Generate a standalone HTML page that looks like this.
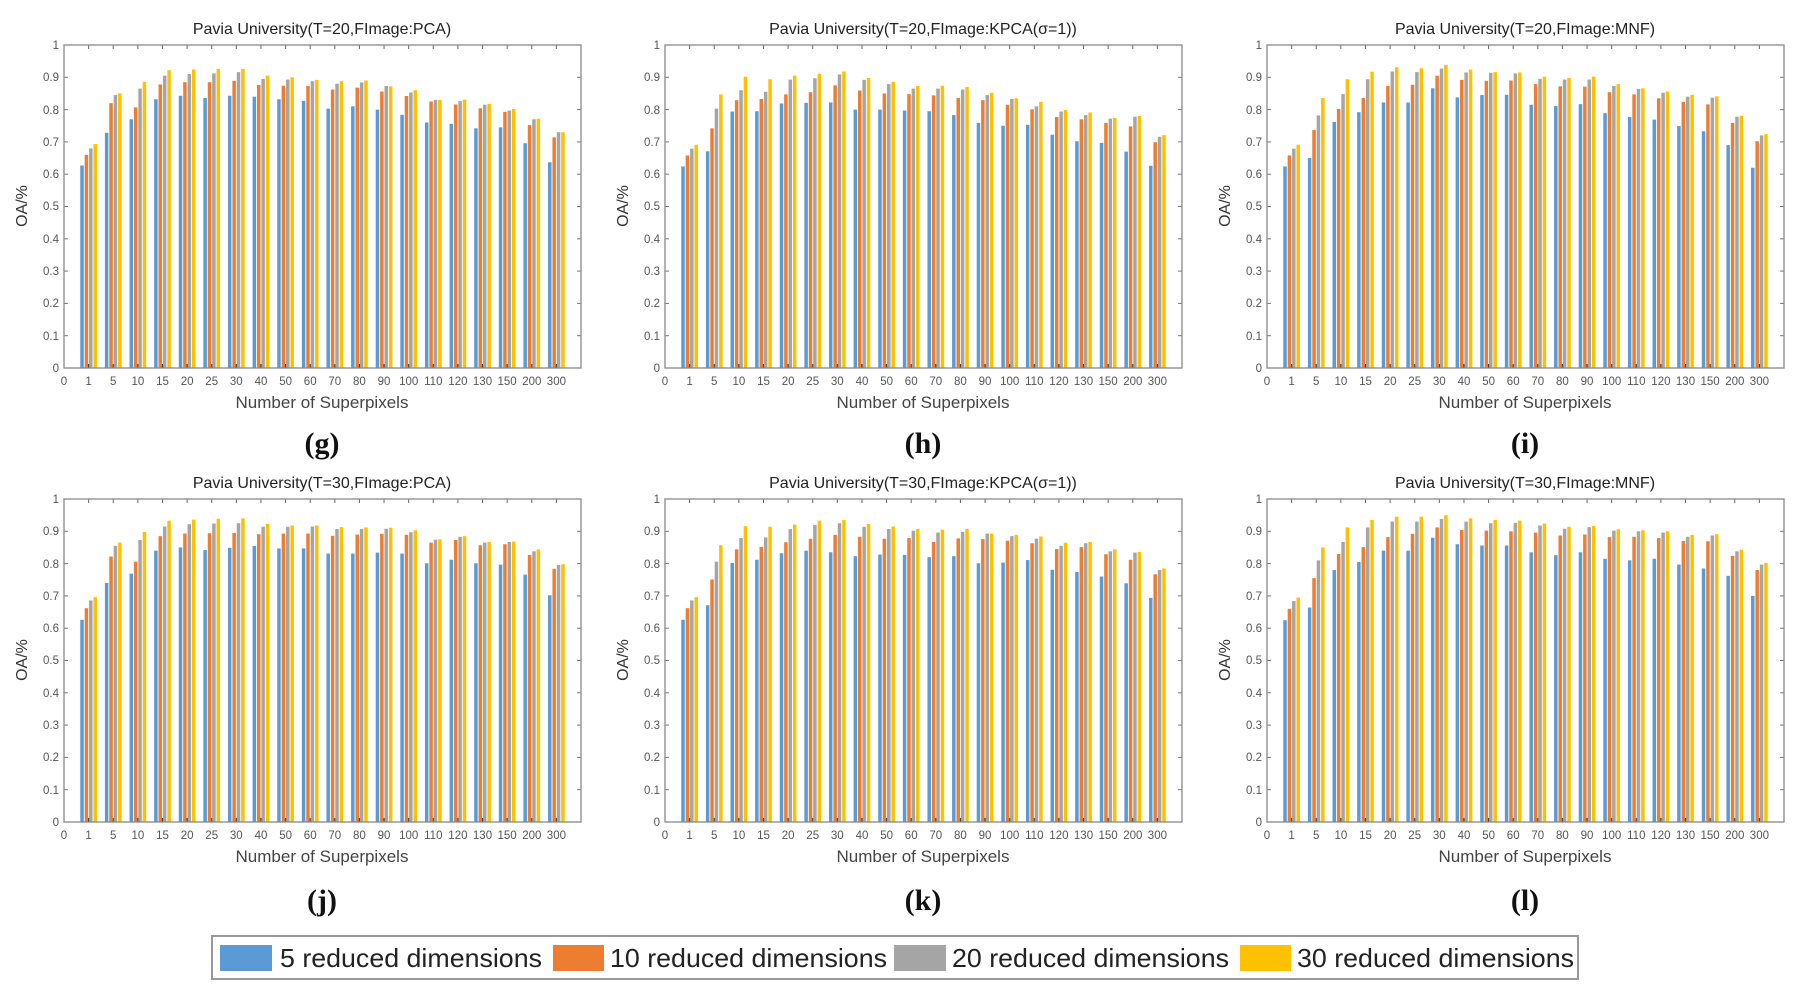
<!DOCTYPE html>
<html><head><meta charset="utf-8"><style>
html,body{margin:0;padding:0;background:#fff;}
svg{display:block;}
.t{font-family:"Liberation Sans",sans-serif;font-size:16px;fill:#222;text-anchor:middle;}
.xl{font-family:"Liberation Sans",sans-serif;font-size:17px;fill:#444;text-anchor:middle;}
.tk{font-family:"Liberation Sans",sans-serif;font-size:11.5px;fill:#555;text-anchor:middle;}
.yk{font-family:"Liberation Sans",sans-serif;font-size:11.5px;fill:#555;text-anchor:end;}
.yl{font-family:"Liberation Sans",sans-serif;font-size:16px;fill:#333;text-anchor:middle;}
.sub{font-family:"Liberation Serif",serif;font-size:30px;font-weight:bold;fill:#111;text-anchor:middle;}
.lg{font-family:"Liberation Sans",sans-serif;font-size:26px;fill:#222;}
</style></head><body>
<svg id="s" width="1804" height="988" xmlns="http://www.w3.org/2000/svg">
<rect width="1804" height="988" fill="#fff"/>
<g id="bars"></g>
<g transform="translate(64,45)">
<text class="t" x="258" y="-11">Pavia University(T=20,FImage:PCA)</text>
<text class="xl" x="258" y="363">Number of Superpixels</text>
<text class="sub" x="258" y="408">(g)</text>
<text class="yl" transform="translate(-37,161) rotate(-90)">OA/%</text>
<text class="yk" x="-5" y="327">0</text><text class="yk" x="-5" y="295">0.1</text><text class="yk" x="-5" y="262">0.2</text><text class="yk" x="-5" y="230">0.3</text><text class="yk" x="-5" y="198">0.4</text><text class="yk" x="-5" y="165">0.5</text><text class="yk" x="-5" y="133">0.6</text><text class="yk" x="-5" y="101">0.7</text><text class="yk" x="-5" y="69">0.8</text><text class="yk" x="-5" y="36">0.9</text><text class="yk" x="-5" y="4">1</text>
<text class="tk" x="0" y="340">0</text><text class="tk" x="24.6" y="340">1</text><text class="tk" x="49.2" y="340">5</text><text class="tk" x="73.9" y="340">10</text><text class="tk" x="98.5" y="340">15</text><text class="tk" x="123.1" y="340">20</text><text class="tk" x="147.7" y="340">25</text><text class="tk" x="172.3" y="340">30</text><text class="tk" x="197" y="340">40</text><text class="tk" x="221.6" y="340">50</text><text class="tk" x="246.2" y="340">60</text><text class="tk" x="270.8" y="340">70</text><text class="tk" x="295.4" y="340">80</text><text class="tk" x="320" y="340">90</text><text class="tk" x="344.7" y="340">100</text><text class="tk" x="369.3" y="340">110</text><text class="tk" x="393.9" y="340">120</text><text class="tk" x="418.5" y="340">130</text><text class="tk" x="443.1" y="340">150</text><text class="tk" x="467.8" y="340">200</text><text class="tk" x="492.4" y="340">300</text>
</g>
<g transform="translate(665,45)">
<text class="t" x="258" y="-11">Pavia University(T=20,FImage:KPCA(σ=1))</text>
<text class="xl" x="258" y="363">Number of Superpixels</text>
<text class="sub" x="258" y="408">(h)</text>
<text class="yl" transform="translate(-37,161) rotate(-90)">OA/%</text>
<text class="yk" x="-5" y="327">0</text><text class="yk" x="-5" y="295">0.1</text><text class="yk" x="-5" y="262">0.2</text><text class="yk" x="-5" y="230">0.3</text><text class="yk" x="-5" y="198">0.4</text><text class="yk" x="-5" y="165">0.5</text><text class="yk" x="-5" y="133">0.6</text><text class="yk" x="-5" y="101">0.7</text><text class="yk" x="-5" y="69">0.8</text><text class="yk" x="-5" y="36">0.9</text><text class="yk" x="-5" y="4">1</text>
<text class="tk" x="0" y="340">0</text><text class="tk" x="24.6" y="340">1</text><text class="tk" x="49.2" y="340">5</text><text class="tk" x="73.9" y="340">10</text><text class="tk" x="98.5" y="340">15</text><text class="tk" x="123.1" y="340">20</text><text class="tk" x="147.7" y="340">25</text><text class="tk" x="172.3" y="340">30</text><text class="tk" x="197" y="340">40</text><text class="tk" x="221.6" y="340">50</text><text class="tk" x="246.2" y="340">60</text><text class="tk" x="270.8" y="340">70</text><text class="tk" x="295.4" y="340">80</text><text class="tk" x="320" y="340">90</text><text class="tk" x="344.7" y="340">100</text><text class="tk" x="369.3" y="340">110</text><text class="tk" x="393.9" y="340">120</text><text class="tk" x="418.5" y="340">130</text><text class="tk" x="443.1" y="340">150</text><text class="tk" x="467.8" y="340">200</text><text class="tk" x="492.4" y="340">300</text>
</g>
<g transform="translate(1267,45)">
<text class="t" x="258" y="-11">Pavia University(T=20,FImage:MNF)</text>
<text class="xl" x="258" y="363">Number of Superpixels</text>
<text class="sub" x="258" y="408">(i)</text>
<text class="yl" transform="translate(-37,161) rotate(-90)">OA/%</text>
<text class="yk" x="-5" y="327">0</text><text class="yk" x="-5" y="295">0.1</text><text class="yk" x="-5" y="262">0.2</text><text class="yk" x="-5" y="230">0.3</text><text class="yk" x="-5" y="198">0.4</text><text class="yk" x="-5" y="165">0.5</text><text class="yk" x="-5" y="133">0.6</text><text class="yk" x="-5" y="101">0.7</text><text class="yk" x="-5" y="69">0.8</text><text class="yk" x="-5" y="36">0.9</text><text class="yk" x="-5" y="4">1</text>
<text class="tk" x="0" y="340">0</text><text class="tk" x="24.6" y="340">1</text><text class="tk" x="49.2" y="340">5</text><text class="tk" x="73.9" y="340">10</text><text class="tk" x="98.5" y="340">15</text><text class="tk" x="123.1" y="340">20</text><text class="tk" x="147.7" y="340">25</text><text class="tk" x="172.3" y="340">30</text><text class="tk" x="197" y="340">40</text><text class="tk" x="221.6" y="340">50</text><text class="tk" x="246.2" y="340">60</text><text class="tk" x="270.8" y="340">70</text><text class="tk" x="295.4" y="340">80</text><text class="tk" x="320" y="340">90</text><text class="tk" x="344.7" y="340">100</text><text class="tk" x="369.3" y="340">110</text><text class="tk" x="393.9" y="340">120</text><text class="tk" x="418.5" y="340">130</text><text class="tk" x="443.1" y="340">150</text><text class="tk" x="467.8" y="340">200</text><text class="tk" x="492.4" y="340">300</text>
</g>
<g transform="translate(64,499)">
<text class="t" x="258" y="-11">Pavia University(T=30,FImage:PCA)</text>
<text class="xl" x="258" y="363">Number of Superpixels</text>
<text class="sub" x="258" y="411">(j)</text>
<text class="yl" transform="translate(-37,161) rotate(-90)">OA/%</text>
<text class="yk" x="-5" y="327">0</text><text class="yk" x="-5" y="295">0.1</text><text class="yk" x="-5" y="262">0.2</text><text class="yk" x="-5" y="230">0.3</text><text class="yk" x="-5" y="198">0.4</text><text class="yk" x="-5" y="165">0.5</text><text class="yk" x="-5" y="133">0.6</text><text class="yk" x="-5" y="101">0.7</text><text class="yk" x="-5" y="69">0.8</text><text class="yk" x="-5" y="36">0.9</text><text class="yk" x="-5" y="4">1</text>
<text class="tk" x="0" y="340">0</text><text class="tk" x="24.6" y="340">1</text><text class="tk" x="49.2" y="340">5</text><text class="tk" x="73.9" y="340">10</text><text class="tk" x="98.5" y="340">15</text><text class="tk" x="123.1" y="340">20</text><text class="tk" x="147.7" y="340">25</text><text class="tk" x="172.3" y="340">30</text><text class="tk" x="197" y="340">40</text><text class="tk" x="221.6" y="340">50</text><text class="tk" x="246.2" y="340">60</text><text class="tk" x="270.8" y="340">70</text><text class="tk" x="295.4" y="340">80</text><text class="tk" x="320" y="340">90</text><text class="tk" x="344.7" y="340">100</text><text class="tk" x="369.3" y="340">110</text><text class="tk" x="393.9" y="340">120</text><text class="tk" x="418.5" y="340">130</text><text class="tk" x="443.1" y="340">150</text><text class="tk" x="467.8" y="340">200</text><text class="tk" x="492.4" y="340">300</text>
</g>
<g transform="translate(665,499)">
<text class="t" x="258" y="-11">Pavia University(T=30,FImage:KPCA(σ=1))</text>
<text class="xl" x="258" y="363">Number of Superpixels</text>
<text class="sub" x="258" y="411">(k)</text>
<text class="yl" transform="translate(-37,161) rotate(-90)">OA/%</text>
<text class="yk" x="-5" y="327">0</text><text class="yk" x="-5" y="295">0.1</text><text class="yk" x="-5" y="262">0.2</text><text class="yk" x="-5" y="230">0.3</text><text class="yk" x="-5" y="198">0.4</text><text class="yk" x="-5" y="165">0.5</text><text class="yk" x="-5" y="133">0.6</text><text class="yk" x="-5" y="101">0.7</text><text class="yk" x="-5" y="69">0.8</text><text class="yk" x="-5" y="36">0.9</text><text class="yk" x="-5" y="4">1</text>
<text class="tk" x="0" y="340">0</text><text class="tk" x="24.6" y="340">1</text><text class="tk" x="49.2" y="340">5</text><text class="tk" x="73.9" y="340">10</text><text class="tk" x="98.5" y="340">15</text><text class="tk" x="123.1" y="340">20</text><text class="tk" x="147.7" y="340">25</text><text class="tk" x="172.3" y="340">30</text><text class="tk" x="197" y="340">40</text><text class="tk" x="221.6" y="340">50</text><text class="tk" x="246.2" y="340">60</text><text class="tk" x="270.8" y="340">70</text><text class="tk" x="295.4" y="340">80</text><text class="tk" x="320" y="340">90</text><text class="tk" x="344.7" y="340">100</text><text class="tk" x="369.3" y="340">110</text><text class="tk" x="393.9" y="340">120</text><text class="tk" x="418.5" y="340">130</text><text class="tk" x="443.1" y="340">150</text><text class="tk" x="467.8" y="340">200</text><text class="tk" x="492.4" y="340">300</text>
</g>
<g transform="translate(1267,499)">
<text class="t" x="258" y="-11">Pavia University(T=30,FImage:MNF)</text>
<text class="xl" x="258" y="363">Number of Superpixels</text>
<text class="sub" x="258" y="411">(l)</text>
<text class="yl" transform="translate(-37,161) rotate(-90)">OA/%</text>
<text class="yk" x="-5" y="327">0</text><text class="yk" x="-5" y="295">0.1</text><text class="yk" x="-5" y="262">0.2</text><text class="yk" x="-5" y="230">0.3</text><text class="yk" x="-5" y="198">0.4</text><text class="yk" x="-5" y="165">0.5</text><text class="yk" x="-5" y="133">0.6</text><text class="yk" x="-5" y="101">0.7</text><text class="yk" x="-5" y="69">0.8</text><text class="yk" x="-5" y="36">0.9</text><text class="yk" x="-5" y="4">1</text>
<text class="tk" x="0" y="340">0</text><text class="tk" x="24.6" y="340">1</text><text class="tk" x="49.2" y="340">5</text><text class="tk" x="73.9" y="340">10</text><text class="tk" x="98.5" y="340">15</text><text class="tk" x="123.1" y="340">20</text><text class="tk" x="147.7" y="340">25</text><text class="tk" x="172.3" y="340">30</text><text class="tk" x="197" y="340">40</text><text class="tk" x="221.6" y="340">50</text><text class="tk" x="246.2" y="340">60</text><text class="tk" x="270.8" y="340">70</text><text class="tk" x="295.4" y="340">80</text><text class="tk" x="320" y="340">90</text><text class="tk" x="344.7" y="340">100</text><text class="tk" x="369.3" y="340">110</text><text class="tk" x="393.9" y="340">120</text><text class="tk" x="418.5" y="340">130</text><text class="tk" x="443.1" y="340">150</text><text class="tk" x="467.8" y="340">200</text><text class="tk" x="492.4" y="340">300</text>
</g>
<rect x="212" y="936" width="1366" height="43" fill="#fff" stroke="#999" stroke-width="2"/>
<rect x="220" y="945" width="52" height="26" fill="#5b9bd5"/>
<text class="lg" x="280" y="967" textLength="262" lengthAdjust="spacingAndGlyphs">5 reduced dimensions</text>
<rect x="553" y="945" width="51" height="26" fill="#ed7d31"/>
<text class="lg" x="610" y="967" textLength="277" lengthAdjust="spacingAndGlyphs">10 reduced dimensions</text>
<rect x="894" y="945" width="52" height="26" fill="#a5a5a5"/>
<text class="lg" x="952" y="967" textLength="277" lengthAdjust="spacingAndGlyphs">20 reduced dimensions</text>
<rect x="1240" y="945" width="51" height="26" fill="#ffc000"/>
<text class="lg" x="1297" y="967" textLength="277" lengthAdjust="spacingAndGlyphs">30 reduced dimensions</text>
</svg>
<script>
var D=[
[[.627,.66,.68,.693],[.728,.82,.845,.85],[.77,.807,.865,.886],[.832,.878,.905,.922],[.843,.885,.91,.924],[.836,.885,.912,.926],[.843,.889,.916,.926],[.84,.876,.895,.905],[.832,.874,.893,.9],[.827,.873,.888,.892],[.803,.862,.88,.888],[.81,.868,.884,.89],[.8,.856,.873,.872],[.784,.842,.853,.86],[.76,.825,.83,.83],[.756,.816,.826,.831],[.742,.804,.815,.818],[.745,.793,.797,.802],[.696,.752,.77,.772],[.637,.714,.73,.73]],
[[.624,.658,.679,.691],[.671,.742,.803,.847],[.794,.829,.86,.902],[.795,.833,.855,.894],[.819,.847,.893,.905],[.821,.854,.897,.911],[.822,.875,.909,.918],[.8,.859,.892,.898],[.8,.85,.879,.886],[.797,.848,.865,.873],[.795,.844,.865,.874],[.783,.836,.862,.87],[.759,.829,.845,.852],[.75,.815,.833,.835],[.753,.801,.81,.824],[.722,.777,.794,.799],[.702,.77,.783,.791],[.697,.759,.772,.774],[.67,.748,.778,.78],[.626,.699,.716,.721]],
[[.624,.658,.679,.691],[.65,.737,.782,.836],[.762,.802,.848,.894],[.792,.836,.894,.917],[.822,.873,.918,.931],[.822,.877,.916,.928],[.866,.905,.927,.938],[.838,.892,.915,.924],[.845,.889,.914,.916],[.846,.89,.912,.915],[.815,.879,.895,.902],[.811,.872,.893,.898],[.817,.871,.893,.902],[.789,.854,.873,.879],[.777,.847,.864,.866],[.769,.835,.852,.856],[.749,.824,.84,.846],[.733,.816,.837,.841],[.69,.759,.778,.781],[.62,.702,.72,.724]],
[[.626,.662,.686,.696],[.74,.822,.855,.865],[.769,.806,.873,.898],[.84,.885,.915,.933],[.85,.893,.922,.936],[.842,.894,.924,.939],[.849,.895,.925,.94],[.855,.891,.914,.923],[.847,.893,.914,.918],[.847,.893,.915,.918],[.831,.886,.907,.913],[.831,.89,.907,.912],[.834,.892,.908,.911],[.831,.889,.897,.903],[.801,.865,.874,.875],[.812,.873,.883,.885],[.801,.857,.865,.867],[.797,.86,.867,.868],[.766,.827,.838,.844],[.702,.784,.796,.798]],
[[.626,.662,.686,.696],[.671,.751,.806,.857],[.802,.844,.879,.916],[.812,.852,.881,.914],[.832,.866,.907,.921],[.84,.877,.92,.933],[.835,.889,.925,.935],[.823,.883,.914,.923],[.828,.877,.907,.915],[.827,.879,.902,.907],[.82,.867,.896,.905],[.823,.878,.898,.907],[.801,.876,.893,.893],[.803,.871,.885,.889],[.811,.863,.877,.884],[.781,.845,.855,.865],[.774,.851,.863,.867],[.76,.829,.838,.844],[.739,.812,.834,.836],[.694,.767,.78,.785]],
[[.625,.66,.684,.695],[.664,.755,.81,.85],[.78,.83,.867,.912],[.805,.851,.912,.935],[.84,.882,.93,.945],[.84,.892,.93,.945],[.88,.912,.938,.95],[.86,.904,.93,.94],[.856,.902,.925,.935],[.856,.9,.926,.933],[.835,.896,.918,.924],[.826,.887,.908,.914],[.835,.89,.913,.917],[.815,.882,.902,.906],[.81,.883,.9,.903],[.815,.879,.896,.9],[.797,.87,.883,.889],[.785,.869,.887,.891],[.762,.824,.838,.843],[.7,.78,.797,.802]]];
var O=[[64,45],[665,45],[1267,45],[64,499],[665,499],[1267,499]];
var C=["#5b9bd5","#ed7d31","#a5a5a5","#ffc000"],off=[-6.6,-2.2,2.2,6.6];
var W=517,H=323,cw=W/21,h="";
for(var c=0;c<6;c++){
 var x0=O[c][0],y0=O[c][1];
 for(var i=0;i<20;i++){
  var cx=x0+(i+1)*cw;
  for(var k=0;k<4;k++){
   var v=D[c][i][k],bh=v*H;
   h+='<rect x="'+(cx+off[k]-1.75).toFixed(2)+'" y="'+(y0+H-bh).toFixed(2)+'" width="3.5" height="'+bh.toFixed(2)+'" fill="'+C[k]+'"/>';
  }
  h+='<line x1="'+cx.toFixed(2)+'" y1="'+(y0+H)+'" x2="'+cx.toFixed(2)+'" y2="'+(y0+H-4)+'" stroke="#333" stroke-width="1"/>';
  h+='<line x1="'+cx.toFixed(2)+'" y1="'+y0+'" x2="'+cx.toFixed(2)+'" y2="'+(y0+4)+'" stroke="#666" stroke-width="1"/>';
 }
 for(var j=1;j<10;j++){
  var yy=(y0+H-j*H/10).toFixed(2);
  h+='<line x1="'+x0+'" y1="'+yy+'" x2="'+(x0+4)+'" y2="'+yy+'" stroke="#777"/>';
  h+='<line x1="'+(x0+W-4)+'" y1="'+yy+'" x2="'+(x0+W)+'" y2="'+yy+'" stroke="#777"/>';
 }
 h+='<rect x="'+x0+'" y="'+y0+'" width="'+W+'" height="'+H+'" fill="none" stroke="#888" stroke-width="1.3"/>';
}
document.getElementById("bars").innerHTML=h;
</script>
</body></html>
